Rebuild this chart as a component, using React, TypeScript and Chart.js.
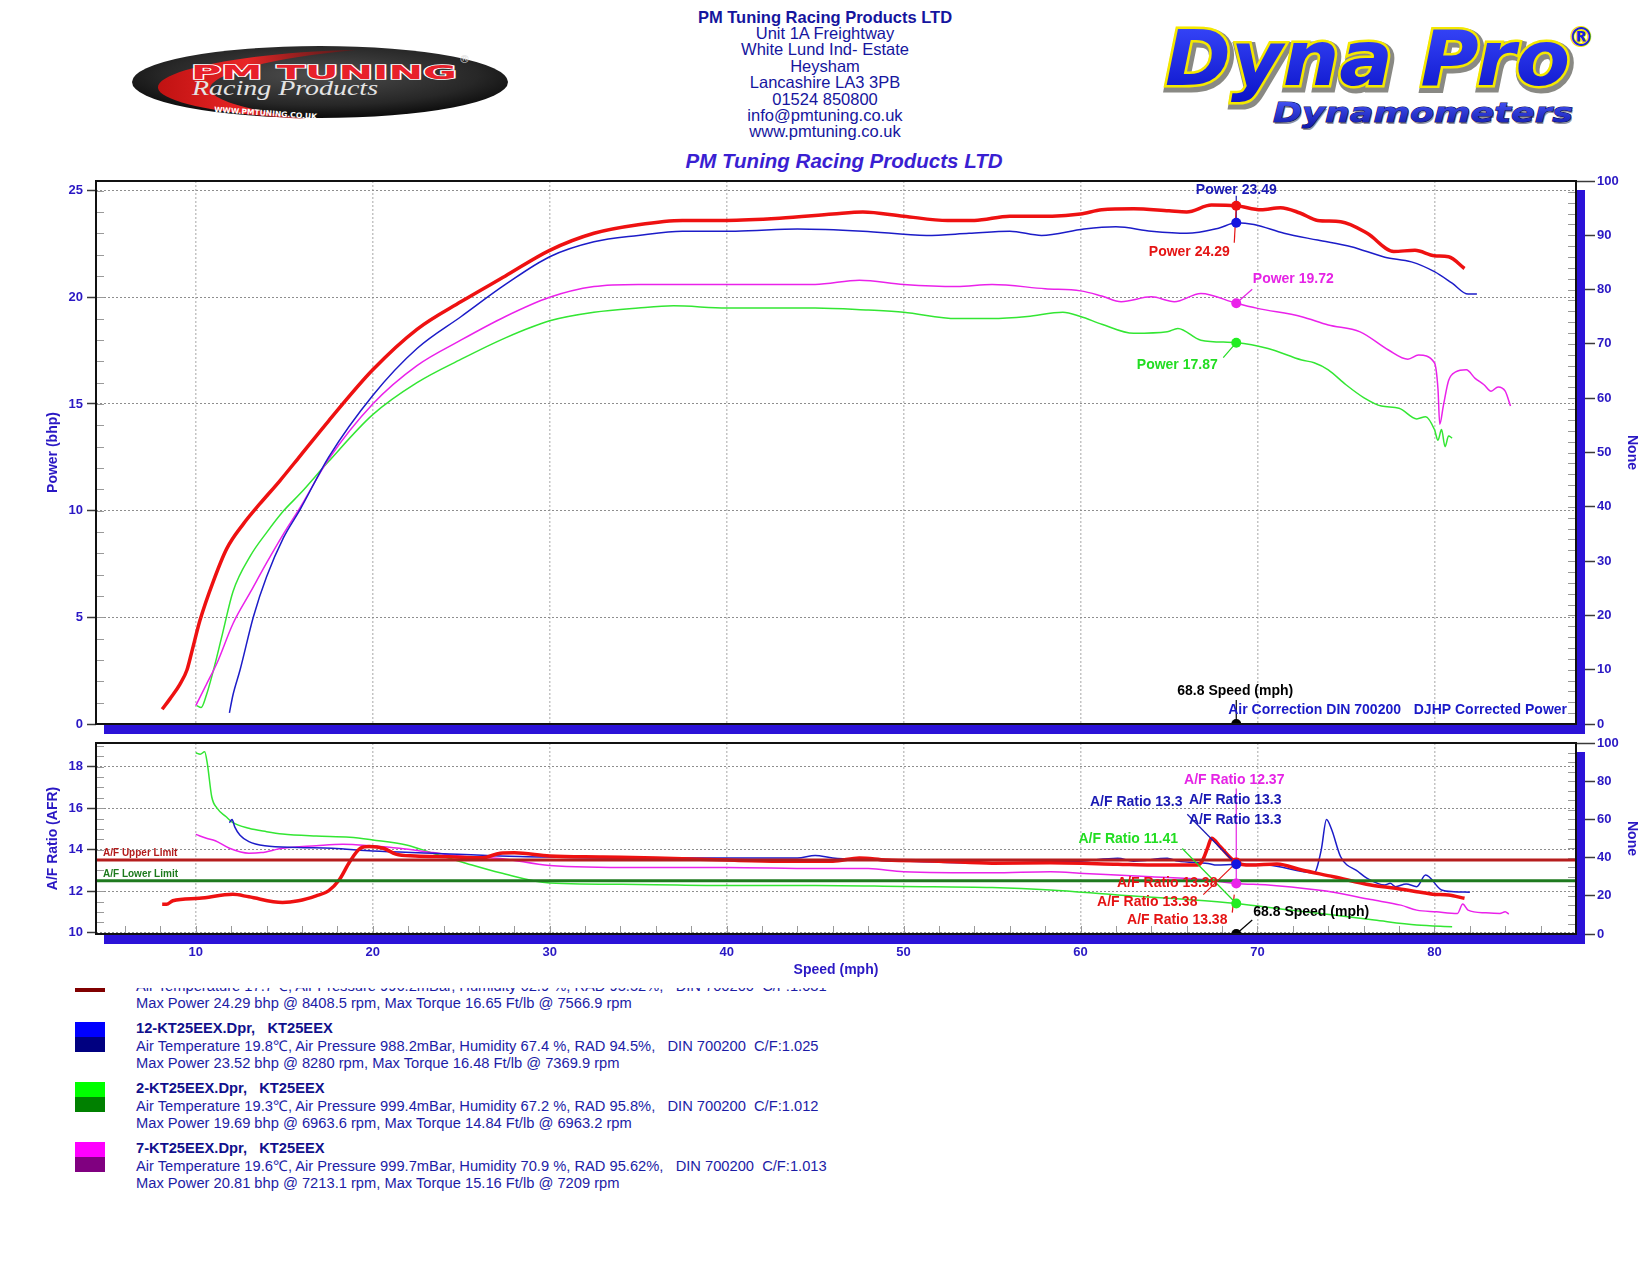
import React, { useEffect, useRef } from "react";
import { Chart, registerables } from "chart.js";

Chart.register(...registerables);

const FONT = '"Liberation Sans", Arial, Helvetica, sans-serif';

// ---------------- axes ----------------
const speedMin = 4.36;
const speedMax = 88;
const speedTicks = [10, 20, 30, 40, 50, 60, 70, 80];
const powerMin = 0;
const powerMax = 25.45;
const powerTicks = [0, 5, 10, 15, 20, 25];
const afrMin = 9.94;
const afrMax = 19.14;
const afrTicks = [10, 12, 14, 16, 18];
const noneTicksTop = [0, 10, 20, 30, 40, 50, 60, 70, 80, 90, 100];
const noneTicksBottom = [0, 20, 40, 60, 80, 100];

// ---------------- power series (speed mph -> bhp) ----------------
const redPowerSpeed = [8.1, 8.55, 9.1, 9.5, 9.77, 10.24, 11.0, 11.75, 12.7, 13.6, 14.75, 15.9, 17.5, 20.0, 22.5, 25.0, 27.5, 30.0, 32.5, 35.0, 37.5, 40.0, 43.0, 46.0, 47.7, 50.0, 52.5, 54.0, 56.0, 58.4, 60.0, 61.2, 63.0, 65.0, 66.0, 67.4, 68.8, 70.2, 71.3, 72.4, 73.4, 74.7, 76.2, 77.7, 78.9, 80.0, 80.8, 81.7];
const redPower = [0.69, 1.19, 1.86, 2.53, 3.37, 4.87, 6.71, 8.22, 9.39, 10.3, 11.4, 12.57, 14.2, 16.6, 18.5, 19.8, 21.0, 22.2, 23.0, 23.4, 23.6, 23.6, 23.7, 23.9, 24.0, 23.8, 23.6, 23.6, 23.8, 23.8, 23.9, 24.1, 24.15, 24.05, 24.0, 24.32, 24.29, 24.1, 24.2, 23.95, 23.6, 23.54, 23.0, 22.15, 22.2, 21.95, 21.9, 21.35];

const bluePowerSpeed = [11.9, 12.1, 12.5, 13.26, 14.0, 14.95, 15.9, 17.5, 20.0, 22.5, 25.0, 27.5, 30.0, 32.5, 35.0, 37.5, 40.5, 44.0, 47.7, 51.3, 53.7, 56.0, 57.8, 60.2, 62.0, 64.0, 66.0, 67.8, 68.8, 69.8, 71.5, 73.4, 75.3, 77.2, 78.7, 80.0, 81.0, 81.9, 82.4];
const bluePower = [0.52, 1.36, 2.53, 5.04, 6.9, 8.72, 10.06, 12.5, 15.4, 17.6, 19.1, 20.6, 21.9, 22.6, 22.9, 23.1, 23.1, 23.2, 23.1, 22.9, 23.0, 23.1, 22.9, 23.2, 23.3, 23.1, 23.0, 23.24, 23.49, 23.41, 23.0, 22.68, 22.37, 21.88, 21.66, 21.2, 20.66, 20.15, 20.15];

const greenPowerSpeed = [10.05, 10.3, 10.6, 11.0, 11.5, 12.1, 13.1, 14.0, 14.95, 15.9, 17.5, 20.0, 22.5, 25.0, 27.5, 30.0, 32.5, 35.0, 37.0, 40.0, 45.0, 48.0, 50.0, 53.0, 55.0, 57.0, 59.0, 60.0, 61.2, 63.0, 64.9, 65.5, 66.8, 68.8, 70.6, 72.5, 73.2, 74.0, 75.0, 76.0, 77.0, 78.0, 79.0, 79.5, 80.0, 80.2, 80.4, 80.6, 80.8, 81.0];
const greenPower = [0.86, 0.77, 1.36, 2.53, 4.2, 6.2, 7.9, 8.97, 9.98, 10.8, 12.3, 14.5, 16.0, 17.1, 18.1, 18.9, 19.3, 19.5, 19.6, 19.5, 19.5, 19.4, 19.3, 19.0, 19.0, 19.1, 19.3, 19.1, 18.74, 18.31, 18.38, 18.54, 17.99, 17.87, 17.6, 17.06, 16.93, 16.6, 15.9, 15.3, 14.9, 14.8, 14.3, 14.4, 13.8, 13.3, 13.8, 13.0, 13.5, 13.4];

const magentaPowerSpeed = [10.0, 10.6, 11.2, 12.1, 13.1, 14.0, 14.95, 15.9, 17.5, 20.0, 22.5, 25.0, 27.5, 30.0, 32.5, 35.0, 40.0, 45.0, 47.5, 50.0, 53.0, 55.0, 58.0, 60.0, 61.2, 62.3, 64.0, 65.3, 66.8, 68.8, 70.0, 72.5, 74.0, 75.8, 77.4, 78.5, 79.1, 80.0, 80.2, 80.3, 80.5, 80.8, 81.2, 81.8, 82.3, 82.8, 83.2, 83.6, 84.0, 84.3];
const magentaPower = [0.86, 1.86, 2.86, 4.7, 6.2, 7.55, 8.9, 10.15, 12.4, 15.0, 16.8, 18.0, 19.1, 20.0, 20.5, 20.6, 20.6, 20.6, 20.8, 20.6, 20.5, 20.6, 20.4, 20.3, 20.06, 19.79, 20.02, 19.79, 20.18, 19.72, 19.48, 19.09, 18.7, 18.38, 17.53, 17.1, 17.29, 16.93, 15.7, 14.05, 14.9, 16.1, 16.5, 16.6, 16.2, 15.9, 15.6, 15.8, 15.6, 14.9];

// ---------------- A/F ratio series (speed mph -> AFR) ----------------
const redAfrSpeed = [8.1, 8.35, 8.7, 10.2, 12.1, 13.0, 14.9, 15.8, 16.8, 17.5, 18.1, 18.7, 19.3, 19.8, 20.6, 21.3, 22.4, 24.3, 26.2, 27.2, 28.0, 30.0, 33.0, 36.0, 40.0, 43.0, 46.0, 47.5, 49.0, 52.0, 55.0, 58.3, 62.1, 64.0, 66.6, 66.9, 67.2, 67.4, 67.9, 68.5, 68.8, 69.6, 71.1, 72.5, 74.3, 76.4, 77.8, 79.0, 79.9, 80.8, 81.7];
const redAfr = [11.37, 11.37, 11.54, 11.66, 11.85, 11.73, 11.46, 11.54, 11.78, 12.02, 12.54, 13.42, 14.07, 14.15, 14.07, 13.79, 13.7, 13.66, 13.61, 13.83, 13.85, 13.7, 13.65, 13.6, 13.5, 13.45, 13.45, 13.6, 13.5, 13.45, 13.35, 13.37, 13.3, 13.26, 13.26, 13.5, 14.14, 14.55, 14.14, 13.59, 13.38, 13.26, 13.31, 13.02, 12.7, 12.3, 12.14, 11.98, 11.86, 11.82, 11.66];

const blueAfrSpeed = [11.9, 12.05, 12.2, 12.5, 13.0, 13.9, 15.8, 17.7, 20.0, 23.4, 27.2, 30.0, 35.0, 40.0, 44.0, 45.0, 46.0, 50.0, 55.0, 58.3, 60.0, 62.1, 63.0, 64.9, 65.5, 67.2, 67.7, 68.8, 70.6, 73.2, 73.6, 73.9, 74.2, 74.7, 75.7, 76.2, 77.2, 77.5, 77.8, 78.4, 79.0, 79.5, 80.4, 81.1, 82.0];
const blueAfr = [15.3, 15.46, 15.1, 14.7, 14.39, 14.19, 14.11, 14.07, 13.94, 13.83, 13.7, 13.65, 13.6, 13.6, 13.6, 13.72, 13.6, 13.45, 13.35, 13.42, 13.45, 13.59, 13.45, 13.59, 13.45, 13.34, 13.26, 13.3, 13.26, 12.89, 13.98, 15.46, 14.95, 13.66, 12.94, 12.62, 12.3, 12.38, 12.22, 12.35, 12.22, 12.78, 12.06, 11.98, 11.95];

const greenAfrSpeed = [10.0, 10.25, 10.5, 10.65, 10.9, 11.2, 11.7, 12.1, 13.0, 14.0, 14.9, 16.8, 18.7, 20.0, 21.9, 23.4, 25.3, 27.2, 30.0, 35.0, 40.0, 45.0, 50.0, 55.0, 58.3, 62.1, 65.9, 68.8, 71.9, 74.3, 76.6, 79.0, 81.0];
const greenAfr = [18.67, 18.6, 18.72, 18.16, 16.55, 16.0, 15.6, 15.3, 15.03, 14.87, 14.76, 14.66, 14.6, 14.47, 14.23, 13.83, 13.34, 12.89, 12.4, 12.33, 12.28, 12.28, 12.23, 12.18, 12.06, 11.82, 11.61, 11.41, 11.09, 10.85, 10.61, 10.37, 10.29];

const magentaAfrSpeed = [10.0, 10.6, 11.1, 11.9, 13.0, 13.7, 14.9, 16.8, 18.3, 20.0, 21.5, 23.4, 25.3, 27.2, 30.0, 35.0, 40.0, 45.0, 48.0, 50.0, 55.0, 58.3, 60.2, 64.0, 66.9, 68.8, 70.6, 73.4, 74.3, 76.4, 78.1, 79.0, 80.1, 81.3, 81.6, 81.9, 82.9, 83.7, 84.0, 84.2];
const magentaAfr = [14.74, 14.55, 14.43, 14.07, 13.83, 13.86, 14.07, 14.19, 14.26, 14.18, 14.07, 13.86, 13.66, 13.58, 13.24, 13.14, 13.14, 13.09, 13.09, 12.94, 12.89, 12.94, 12.86, 12.7, 12.57, 12.37, 12.3, 12.06, 11.95, 11.6, 11.33, 11.09, 11.01, 10.93, 11.38, 11.09, 10.96, 10.93, 11.01, 10.9];

const afrUpperLimit = 13.5;
const afrLowerLimit = 12.5;

// ---------------- cursor readout (red, blue, green, magenta) ----------------
const cursorSpeed = 68.8;
const cursorPower = [24.29, 23.49, 17.87, 19.72];
const cursorAfr = [13.38, 13.3, 11.41, 12.37];

// ---------------- legend text ----------------
const legendTitles = ["", "12-KT25EEX.Dpr,   KT25EEX", "2-KT25EEX.Dpr,   KT25EEX", "7-KT25EEX.Dpr,   KT25EEX"];
const legendAirLines = [
  "Air Temperature 17.7\u2103, Air Pressure 996.2mBar, Humidity 62.9 %, RAD 95.52%,   DIN 700200  C/F:1.031",
  "Air Temperature 19.8\u2103, Air Pressure 988.2mBar, Humidity 67.4 %, RAD 94.5%,   DIN 700200  C/F:1.025",
  "Air Temperature 19.3\u2103, Air Pressure 999.4mBar, Humidity 67.2 %, RAD 95.8%,   DIN 700200  C/F:1.012",
  "Air Temperature 19.6\u2103, Air Pressure 999.7mBar, Humidity 70.9 %, RAD 95.62%,   DIN 700200  C/F:1.013",
];
const legendMaxLines = [
  "Max Power 24.29 bhp @ 8408.5 rpm, Max Torque 16.65 Ft/lb @ 7566.9 rpm",
  "Max Power 23.52 bhp @ 8280 rpm, Max Torque 16.48 Ft/lb @ 7369.9 rpm",
  "Max Power 19.69 bhp @ 6963.6 rpm, Max Torque 14.84 Ft/lb @ 6963.2 rpm",
  "Max Power 20.81 bhp @ 7213.1 rpm, Max Torque 15.16 Ft/lb @ 7209 rpm",
];
const legendLight = ["#ff0000", "#0000ff", "#00ff00", "#ff00ff"];
const legendDark = ["#800000", "#000080", "#008000", "#800080"];

const headerLines = ["Unit 1A Freightway", "White Lund Ind- Estate", "Heysham", "Lancashire LA3 3PB", "01524 850800", "info@pmtuning.co.uk", "www.pmtuning.co.uk"];

// ---------------- styles ----------------
const C_RED = "#ee1111";
const C_BLUE = "#1c1cc8";
const C_GREEN = "#33e633";
const C_MAGENTA = "#ea22ea";
const T_RED = "#e41414";
const T_BLUE = "#1a1ab4";
const T_GREEN = "#22dd22";
const T_MAGENTA = "#e524e5";
const AXIS_COLOR = "#2a18c4";
const BAR_BLUE = "#2b12d8";

const xy = (xs: number[], ys: number[]) => xs.map((x, i) => ({ x, y: ys[i] }));
const setTicks = (values: number[]) => (scale: any) => {
  scale.ticks = values.map((v) => ({ value: v }));
};
const tickFont = { family: FONT, size: 13, weight: "bold" as const, lineHeight: 1 };
const titleFont = { family: FONT, size: 14, weight: "bold" as const };

function line(ctx: any, x1: number, y1: number, x2: number, y2: number, color: string, w = 1.2) {
  ctx.save();
  ctx.strokeStyle = color;
  ctx.lineWidth = w;
  ctx.beginPath();
  ctx.moveTo(x1, y1);
  ctx.lineTo(x2, y2);
  ctx.stroke();
  ctx.restore();
}
function dot(ctx: any, x: number, y: number, color: string, r = 5) {
  ctx.save();
  ctx.fillStyle = color;
  ctx.beginPath();
  ctx.arc(x, y, r, 0, Math.PI * 2);
  ctx.fill();
  ctx.restore();
}
function text(ctx: any, s: string, x: number, y: number, color: string, align = "center", size = 14) {
  ctx.save();
  ctx.font = `bold ${size}px ${FONT}`;
  ctx.fillStyle = color;
  ctx.textAlign = align;
  ctx.textBaseline = "middle";
  ctx.fillText(s, x, y);
  ctx.restore();
}

const minorTicksPlugin = {
  id: "minorTicks",
  beforeDatasetsDraw(chart: any, _args: any, opts: any) {
    const { ctx, chartArea: a, scales } = chart;
    ctx.save();
    ctx.strokeStyle = "#9a9a9a";
    ctx.lineWidth = 1;
    (opts.items || []).forEach((it: any) => {
      const s = scales[it.axis];
      for (let v = it.from; v <= it.to + 1e-9; v += it.step) {
        const p = Math.round(s.getPixelForValue(v)) + 0.5;
        ctx.beginPath();
        if (it.side === "left") {
          ctx.moveTo(a.left, p);
          ctx.lineTo(a.left + 8, p);
        } else if (it.side === "right") {
          ctx.moveTo(a.right - 8, p);
          ctx.lineTo(a.right, p);
        } else {
          ctx.moveTo(p, a.bottom);
          ctx.lineTo(p, a.bottom - 8);
        }
        ctx.stroke();
      }
    });
    ctx.restore();
  },
};

const framePlugin = {
  id: "frame",
  afterDraw(chart: any) {
    const { ctx, chartArea: a } = chart;
    ctx.save();
    ctx.fillStyle = BAR_BLUE;
    ctx.fillRect(a.left + 8, a.bottom + 1, a.right - a.left + 1, 9);
    ctx.fillRect(a.right + 1, a.top + 9, 8, a.bottom - a.top + 1);
    ctx.strokeStyle = "#111";
    ctx.lineWidth = 2;
    ctx.strokeRect(a.left, a.top, a.right - a.left, a.bottom - a.top);
    ctx.restore();
  },
};

const powerAnnotPlugin = {
  id: "powerAnnot",
  afterDatasetsDraw(chart: any) {
    const { ctx, chartArea: a, scales } = chart;
    const px = scales.x.getPixelForValue(cursorSpeed);
    const yR = scales.y.getPixelForValue(cursorPower[0]);
    const yB = scales.y.getPixelForValue(cursorPower[1]);
    const yG = scales.y.getPixelForValue(cursorPower[2]);
    const yM = scales.y.getPixelForValue(cursorPower[3]);
    const y0 = scales.y.getPixelForValue(0);
    line(ctx, px, yB - 27, px, yB, T_BLUE);
    line(ctx, px, yR, px - 2, yR + 37, T_RED);
    line(ctx, px, yM, px + 16, yM - 14, T_MAGENTA);
    line(ctx, px, yG, px - 13, yG + 15, T_GREEN);
    line(ctx, px, y0 - 24, px, y0, "#000");
    dot(ctx, px, yR, C_RED);
    dot(ctx, px, yB, "#1414e0");
    dot(ctx, px, yM, C_MAGENTA);
    dot(ctx, px, yG, "#22ee22");
    dot(ctx, px, y0, "#000");
    text(ctx, `Power ${cursorPower[1]}`, px, yB - 33, T_BLUE);
    text(ctx, `Power ${cursorPower[0]}`, px - 47, yR + 46, T_RED);
    text(ctx, `Power ${cursorPower[3]}`, px + 57, yM - 24, T_MAGENTA);
    text(ctx, `Power ${cursorPower[2]}`, px - 59, yG + 22, T_GREEN);
    text(ctx, `${cursorSpeed} Speed (mph)`, px - 1, y0 - 33, "#000");
    text(ctx, "Air Correction DIN 700200", px - 8, y0 - 14, "#1a1ac8", "left");
    text(ctx, "DJHP Corrected Power", a.right - 9, y0 - 14, "#1a1ac8", "right");
  },
};

const afrAnnotPlugin = {
  id: "afrAnnot",
  afterDatasetsDraw(chart: any) {
    const { ctx, chartArea: a, scales } = chart;
    const px = scales.x.getPixelForValue(cursorSpeed);
    const yR = scales.y.getPixelForValue(cursorAfr[0]);
    const yB = scales.y.getPixelForValue(cursorAfr[1]);
    const yG = scales.y.getPixelForValue(cursorAfr[2]);
    const yM = scales.y.getPixelForValue(cursorAfr[3]);
    const yBot = a.bottom;
    const yUp = scales.y.getPixelForValue(afrUpperLimit);
    const yLo = scales.y.getPixelForValue(afrLowerLimit);
    text(ctx, "A/F Upper Limit", a.left + 7, yUp - 7, "#b31b1b", "left", 10);
    text(ctx, "A/F Lower Limit", a.left + 7, yLo - 7, "#1d7a1d", "left", 10);

    line(ctx, px, yM - 95, px, yM, T_MAGENTA);
    line(ctx, px - 49, yB - 50, px, yB, T_BLUE);
    line(ctx, px - 54, yG - 55, px, yG, T_GREEN);
    line(ctx, px, yR, px - 33, yR + 32, T_RED);
    line(ctx, px - 2, yR + 32, px - 4, yR + 50, T_RED);
    line(ctx, px + 16, yBot - 14, px, yBot, "#000");
    dot(ctx, px, yR, C_RED);
    dot(ctx, px, yM, C_MAGENTA);
    dot(ctx, px, yG, "#22ee22");
    dot(ctx, px, yB, "#1414e0");
    dot(ctx, px, yBot, "#000");

    text(ctx, `A/F Ratio ${cursorAfr[3]}`, px - 2, yM - 103, T_MAGENTA);
    text(ctx, `A/F Ratio ${cursorAfr[1]}`, px - 1, yB - 64, T_BLUE);
    text(ctx, `A/F Ratio ${cursorAfr[1]}`, px - 1, yB - 44, T_BLUE);
    text(ctx, `A/F Ratio ${cursorAfr[1]}`, px - 100, yB - 62, T_BLUE);
    text(ctx, `A/F Ratio ${cursorAfr[2]}`, px - 108, yG - 64, T_GREEN);
    text(ctx, `A/F Ratio ${cursorAfr[0]}`, px - 69, yR + 21, T_RED);
    text(ctx, `A/F Ratio ${cursorAfr[0]}`, px - 89, yR + 40, T_RED);
    text(ctx, `A/F Ratio ${cursorAfr[0]}`, px - 59, yR + 58, T_RED);
    text(ctx, `${cursorSpeed} Speed (mph)`, px + 17, yBot - 22, "#000", "left");
  },
};

const lineDs = (data: any, color: string, width: number, order: number) => ({
  data,
  borderColor: color,
  borderWidth: width,
  pointRadius: 0,
  fill: false,
  cubicInterpolationMode: "monotone" as const,
  order,
  yAxisID: "y",
});

function makeScales(opts: any) {
  return {
    x: {
      type: "linear",
      position: "bottom",
      min: speedMin,
      max: speedMax,
      afterBuildTicks: setTicks(speedTicks),
      ticks: opts.xLabels
        ? { display: true, color: AXIS_COLOR, font: tickFont, padding: 12, autoSkip: false, maxRotation: 0 }
        : { display: false },
      grid: { color: "#c4c4c4", lineWidth: 1.5, drawTicks: false },
      border: { display: false, dash: [2, 2] },
      title: opts.xLabels
        ? { display: true, text: "Speed (mph)", color: AXIS_COLOR, font: titleFont, padding: { top: 0, bottom: 6 } }
        : { display: false },
      afterFit: (s: any) => {
        s.height = opts.xHeight;
        s.paddingLeft = 0;
        s.paddingRight = 0;
      },
    },
    y: {
      type: "linear",
      position: "left",
      min: opts.yMin,
      max: opts.yMax,
      afterBuildTicks: setTicks(opts.yTicks),
      ticks: { color: AXIS_COLOR, font: tickFont, padding: 4, autoSkip: false },
      grid: { color: "#8e8e8e", lineWidth: 1, tickLength: 9, tickColor: "#3a3a3a", tickWidth: 1.5, tickBorderDash: [] },
      border: { display: false, dash: [2, 2] },
      title: { display: true, text: opts.yTitle, color: AXIS_COLOR, font: titleFont, padding: { top: 45, bottom: 0 } },
      afterFit: (s: any) => {
        s.width = 96;
        s.paddingTop = 0;
        s.paddingBottom = 0;
      },
    },
    y2: {
      type: "linear",
      position: "right",
      min: 0,
      max: 100,
      afterBuildTicks: setTicks(opts.rTicks),
      ticks: { color: AXIS_COLOR, font: tickFont, padding: 2, autoSkip: false },
      grid: { drawOnChartArea: false, tickLength: 19, tickColor: "#3a3a3a", tickWidth: 1.5, tickBorderDash: [] },
      border: { display: false },
      title: { display: true, text: "None", color: AXIS_COLOR, font: titleFont, padding: { top: 10, bottom: 0 } },
      afterFit: (s: any) => {
        s.width = 74;
        s.paddingTop = 0;
        s.paddingBottom = 0;
      },
    },
  };
}

function PmLogo() {
  return (
    <svg width={384} height={82} viewBox="0 0 384 82" style={{ position: "absolute", left: 128, top: 42 }}>
      <defs>
        <radialGradient id="pmBg" cx="50%" cy="40%" r="60%">
          <stop offset="0%" stopColor="#4e4e4e" />
          <stop offset="70%" stopColor="#272727" />
          <stop offset="100%" stopColor="#0b0b0b" />
        </radialGradient>
        <linearGradient id="pmRed" x1="0" y1="0" x2="1" y2="0">
          <stop offset="0%" stopColor="#c01212" />
          <stop offset="45%" stopColor="#e82626" />
          <stop offset="100%" stopColor="#7a0a0a" stopOpacity="0.5" />
        </linearGradient>
      </defs>
      <ellipse cx={192} cy={40} rx={188} ry={36} fill="url(#pmBg)" />
      <path d="M228,8 C120,10 28,28 30,46 C32,62 110,74 178,77 C120,68 82,58 82,46 C84,32 140,16 228,8 Z" fill="url(#pmRed)" />
      <text x={63} y={37} textLength={266} lengthAdjust="spacingAndGlyphs" fontFamily="DejaVu Sans, sans-serif" fontWeight="bold" fontSize={20} fill="#e8202a" stroke="#ffffff" strokeWidth={1.6} style={{ paintOrder: "stroke" } as any}>
        PM TUNING
      </text>
      <text x={331} y={21} fontFamily="DejaVu Sans, sans-serif" fontSize={11} fill="#dddddd">®</text>
      <text x={64} y={53} textLength={186} lengthAdjust="spacingAndGlyphs" fontFamily="Liberation Serif, serif" fontStyle="italic" fontSize={20} fill="#e4e4e4">
        Racing Products
      </text>
      <text x={86} y={70} textLength={103} lengthAdjust="spacingAndGlyphs" fontFamily="DejaVu Sans, sans-serif" fontWeight="bold" fontSize={7.5} fill="#ffffff" transform="rotate(4 86 70)">
        WWW.PMTUNING.CO.UK
      </text>
    </svg>
  );
}

function DynaLogo() {
  return (
    <svg width={470} height={130} viewBox="0 0 470 130" style={{ position: "absolute", left: 1150, top: 10 }}>
      <defs>
        <linearGradient id="dpBlue" x1="0" y1="0" x2="0" y2="1">
          <stop offset="0%" stopColor="#3c4cff" />
          <stop offset="100%" stopColor="#0a12c8" />
        </linearGradient>
        <linearGradient id="dmBlue" x1="0" y1="0" x2="0" y2="1">
          <stop offset="0%" stopColor="#4a5aff" />
          <stop offset="100%" stopColor="#1018a8" />
        </linearGradient>
      </defs>
      <text x={17} y={78} textLength={405} lengthAdjust="spacingAndGlyphs" fontFamily="DejaVu Sans, sans-serif" fontWeight="bold" fontStyle="italic" fontSize={77} fill="#2a2a20" stroke="#2a2a20" strokeWidth={9} opacity={0.55}>
        Dyna Pro
      </text>
      <text x={15} y={75} textLength={405} lengthAdjust="spacingAndGlyphs" fontFamily="DejaVu Sans, sans-serif" fontWeight="bold" fontStyle="italic" fontSize={77} fill="url(#dpBlue)" stroke="#f4e800" strokeWidth={5} style={{ paintOrder: "stroke" } as any}>
        Dyna Pro
      </text>
      <text x={418} y={36} fontFamily="DejaVu Sans, sans-serif" fontWeight="bold" fontSize={26} fill="#1a22e0" stroke="#f4e800" strokeWidth={2} style={{ paintOrder: "stroke" } as any}>
        ®
      </text>
      <text x={124} y={114} textLength={300} lengthAdjust="spacingAndGlyphs" fontFamily="DejaVu Sans, sans-serif" fontWeight="bold" fontStyle="italic" fontSize={27} fill="#2a2a40" opacity={0.5}>
        Dynamometers
      </text>
      <text x={123} y={112} textLength={300} lengthAdjust="spacingAndGlyphs" fontFamily="DejaVu Sans, sans-serif" fontWeight="bold" fontStyle="italic" fontSize={27} fill="url(#dmBlue)" stroke="#0a0a50" strokeWidth={1} style={{ paintOrder: "stroke" } as any}>
        Dynamometers
      </text>
    </svg>
  );
}

export default function App() {
  const topRef = useRef<HTMLCanvasElement>(null);
  const botRef = useRef<HTMLCanvasElement>(null);

  useEffect(() => {
    document.body.style.margin = "0";
    const top = new Chart(topRef.current as HTMLCanvasElement, {
      type: "line",
      data: {
        datasets: [
          lineDs(xy(redPowerSpeed, redPower), C_RED, 3.5, 1),
          lineDs(xy(bluePowerSpeed, bluePower), C_BLUE, 1.5, 2),
          lineDs(xy(magentaPowerSpeed, magentaPower), C_MAGENTA, 1.5, 3),
          lineDs(xy(greenPowerSpeed, greenPower), C_GREEN, 1.5, 4),
        ],
      },
      options: {
        animation: false,
        responsive: false,
        events: [],
        layout: { autoPadding: false, padding: { top: 11, left: 0, right: 0, bottom: 0 } },
        plugins: {
          legend: { display: false },
          tooltip: { enabled: false },
          minorTicks: {
            items: [
              { axis: "y", side: "left", from: 0, to: 25, step: 1 },
              { axis: "y2", side: "right", from: 0, to: 100, step: 2 },
            ],
          },
        } as any,
        scales: makeScales({ xLabels: false, xHeight: 11, yMin: powerMin, yMax: powerMax, yTicks: powerTicks, yTitle: "Power (bhp)", rTicks: noneTicksTop }) as any,
      },
      plugins: [minorTicksPlugin, powerAnnotPlugin, framePlugin],
    } as any);

    const bottom = new Chart(botRef.current as HTMLCanvasElement, {
      type: "line",
      data: {
        datasets: [
          lineDs(xy([speedMin, speedMax], [afrUpperLimit, afrUpperLimit]), "#b51d1d", 3, 0),
          lineDs(xy([speedMin, speedMax], [afrLowerLimit, afrLowerLimit]), "#1f7a1f", 3, 0),
          lineDs(xy(redAfrSpeed, redAfr), C_RED, 3.5, 1),
          lineDs(xy(blueAfrSpeed, blueAfr), C_BLUE, 1.5, 2),
          lineDs(xy(magentaAfrSpeed, magentaAfr), C_MAGENTA, 1.5, 3),
          lineDs(xy(greenAfrSpeed, greenAfr), C_GREEN, 1.5, 4),
        ],
      },
      options: {
        animation: false,
        responsive: false,
        events: [],
        layout: { autoPadding: false, padding: { top: 8, left: 0, right: 0, bottom: 0 } },
        plugins: {
          legend: { display: false },
          tooltip: { enabled: false },
          minorTicks: {
            items: [
              { axis: "y", side: "left", from: 10, to: 19, step: 0.5 },
              { axis: "y2", side: "right", from: 0, to: 100, step: 5 },
              { axis: "x", side: "bottom", from: 6, to: 86, step: 2 },
            ],
          },
        } as any,
        scales: makeScales({ xLabels: true, xHeight: 51, yMin: afrMin, yMax: afrMax, yTicks: afrTicks, yTitle: "A/F Ratio (AFR)", rTicks: noneTicksBottom }) as any,
      },
      plugins: [minorTicksPlugin, afrAnnotPlugin, framePlugin],
    } as any);

    return () => {
      top.destroy();
      bottom.destroy();
    };
  }, []);

  const navy = "#15159e";
  return (
    <div style={{ position: "absolute", left: 0, top: 0, width: 1650, height: 1275, background: "#fff", overflow: "hidden", fontFamily: FONT }}>
      <PmLogo />
      <DynaLogo />
      <div style={{ position: "absolute", left: 0, top: 8.6, width: 1650, textAlign: "center", color: navy, fontSize: 16.5, lineHeight: "16.4px" }}>
        <div style={{ fontWeight: "bold" }}>PM Tuning Racing Products LTD</div>
        {headerLines.map((t, i) => (
          <div key={i}>{t}</div>
        ))}
      </div>
      <div style={{ position: "absolute", left: 544, top: 149, width: 600, textAlign: "center", color: "#3a1fd2", fontSize: 20.5, fontWeight: "bold", fontStyle: "italic", lineHeight: "24px" }}>
        PM Tuning Racing Products LTD
      </div>

      <canvas ref={topRef} width={1650} height={565} style={{ position: "absolute", left: 0, top: 170, width: 1650, height: 565, display: "block" }} />
      <canvas ref={botRef} width={1650} height={250} style={{ position: "absolute", left: 0, top: 735, width: 1650, height: 250, display: "block" }} />

      <div style={{ position: "absolute", left: 0, top: 988, width: 1650, height: 287, overflow: "hidden" }}>
        {legendTitles.map((title, g) => {
          const tc = 969 + 60 * g - 988;
          return (
            <React.Fragment key={g}>
              <div style={{ position: "absolute", left: 75, top: tc - 7, width: 30, height: 15, background: legendLight[g] }} />
              <div style={{ position: "absolute", left: 75, top: tc + 8, width: 30, height: 15, background: legendDark[g] }} />
              {title ? (
                <div style={{ position: "absolute", left: 136, top: tc - 8.75, lineHeight: "17.5px", fontSize: 14.7, fontWeight: "bold", color: "#10108c", whiteSpace: "pre" }}>{title}</div>
              ) : null}
              <div style={{ position: "absolute", left: 136, top: tc + 17.5 - 8.75, lineHeight: "17.5px", fontSize: 14.7, color: "#1c1ca6", whiteSpace: "pre" }}>{legendAirLines[g]}</div>
              <div style={{ position: "absolute", left: 136, top: tc + 35 - 8.75, lineHeight: "17.5px", fontSize: 14.7, color: "#1c1ca6", whiteSpace: "pre" }}>{legendMaxLines[g]}</div>
            </React.Fragment>
          );
        })}
      </div>
    </div>
  );
}
